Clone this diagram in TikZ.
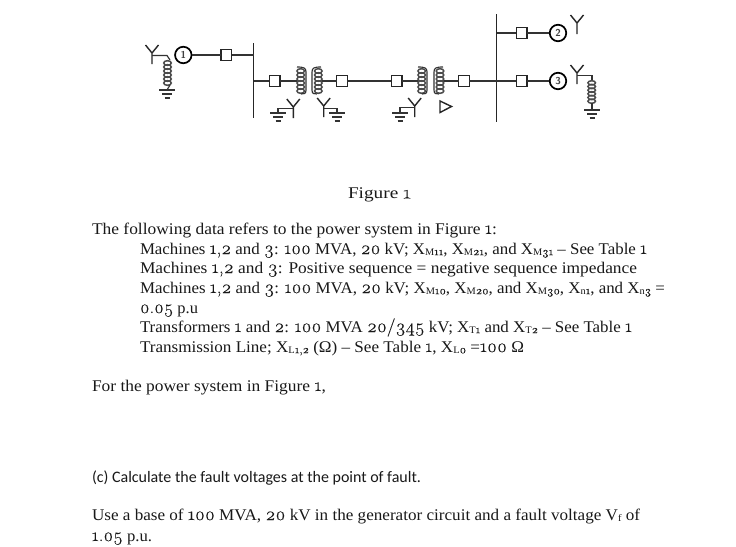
\documentclass[tikz,border=0pt]{standalone}
\usepackage{graphicx}
\usepackage{fontspec}
\setmainfont{Liberation Serif}
\newfontfamily\calib{Carlito}
\newfontfamily\osfont[Numbers=OldStyle,Scale=1.12,FakeBold=0.1]{Latin Modern Roman}
\newcommand{\os}[1]{{\osfont #1}}
\newcommand{\lowt}[1]{\raisebox{-1.2pt}{\fontsize{10}{10}\selectfont #1}}
\newcommand{\textline}[5]{\node[txt] (#1) at (#2,#3) {\resizebox{#4pt}{\height}{#5}};}
\newcommand{\gnd}[2]{%
  \draw[ln] (#1-8,#2) -- (#1+8,#2);
  \draw[ln] (#1-5,#2+4) -- (#1+5,#2+4);
  \draw[ln] (#1-2.5,#2+8) -- (#1+2.5,#2+8);}
\newcommand{\ysym}[2]{% centre of the fork
  \draw[lnt] (#1-6.5,#2-8) -- (#1,#2) -- (#1+6.5,#2-8) (#1,#2) -- (#1,#2+11);}
\newcommand{\coilv}[3]{% x, ytop, ybottom
  \foreach \i in {0,...,5}{
    \draw[coilst] ({#1},{#2+(#3-#2)*(\i+0.5)/6}) ellipse [x radius=3.8,y radius={(#3-#2)/12+0.3}];}}
\tikzset{
  ln/.style={draw=black!80,line width=1.15pt},
  lnt/.style={draw=black!85,line width=1.4pt},
  coilst/.style={draw=black!70,line width=1.5pt},
  brk/.style={draw,fill=white,line width=1.2pt,draw=black!85,minimum size=10.5pt,inner sep=0pt,outer sep=0pt},
  mach/.style={circle,draw=black,line width=1.7pt,fill=white,minimum size=16.5pt,inner sep=0pt,text=black!75,font=\sffamily\bfseries\fontsize{10}{10}\selectfont},
  txt/.style={anchor=base west,inner sep=0pt,outer sep=0pt,text=black!90,font=\fontsize{16.3}{18}\selectfont},
  txc/.style={txt,font=\calib\fontsize{16}{18}\selectfont}
}
\begin{document}
\begin{tikzpicture}[x=1pt,y=-1pt]
\useasboundingbox[fill=white] (0,0) rectangle (736,546);
% buses
\coordinate (b1t) at (253.7,43); \coordinate (b1b) at (253.7,118);
\coordinate (b2t) at (496.7,14); \coordinate (b2b) at (496.7,122);
\draw[lnt] (b1t) -- (b1b);
\draw[lnt] (b2t) -- (b2b);
\coordinate (b1a) at (253.7,55); \coordinate (b1c) at (253.7,81);
\coordinate (b2a) at (496.7,33); \coordinate (b2c) at (496.7,81);
% machines and breakers
\node[mach] (m1) at (183.3,55) {1};
\node[mach] (m2) at (558,33) {2};
\node[mach] (m3) at (558,81) {3};
\node[brk] (s1) at (226.3,55) {};
\node[brk] (s2) at (274.7,81) {};
\node[brk] (s3) at (342,81) {};
\node[brk] (s4) at (396.7,81) {};
\node[brk] (s5) at (464,81) {};
\node[brk] (s6) at (521.7,33) {};
\node[brk] (s7) at (521.7,81) {};
\coordinate (t1l) at (298,81); \coordinate (t1r) at (320,81);
\coordinate (t2l) at (419,81); \coordinate (t2r) at (442,81);
\draw[ln] (m1) -- (s1); \draw[ln] (s1) -- (b1a);
\draw[ln] (b1c) -- (s2); \draw[ln] (s2) -- (t1l);
\draw[ln] (t1r) -- (s3); \draw[ln] (s3) -- (s4);
\draw[ln] (s4) -- (t2l); \draw[ln] (t2r) -- (s5);
\draw[ln] (s5) -- (b2c); \draw[ln] (b2c) -- (s7); \draw[ln] (s7) -- (m3);
\draw[ln] (b2a) -- (s6); \draw[ln] (s6) -- (m2);
% transformer windings
\coilv{300.7}{69}{93} \coilv{318.3}{69}{93}
\coilv{421.7}{69}{93} \coilv{440}{69}{93}
\draw[ln] (297,67) .. controls (304,67) and (306,68) .. (306,72) -- (306,90) .. controls (306,94) and (304,94) .. (301,94);
\draw[ln] (321,67) .. controls (314,67) and (312,68) .. (312,72) -- (312,90) .. controls (312,94) and (314,94) .. (317,94);
\draw[ln] (418,67) .. controls (425,67) and (427,68) .. (427,72) -- (427,90) .. controls (427,94) and (425,94) .. (422,94);
\draw[ln] (443,67) .. controls (436,67) and (434,68) .. (434,72) -- (434,90) .. controls (434,94) and (436,94) .. (439,94);
% generator 1 neutral
\ysym{152}{53}
\draw[ln] (152,55.5) -- (167,55.5) -- (170,60);
\coilv{167.5}{61}{85}
\draw[ln] (170,85) -- (167,90);
\gnd{167}{90}
% generator 3 neutral
\ysym{577}{73}
\draw[ln] (577,75.5) -- (592,75.5) -- (592,81);
\coilv{591.7}{81}{103}
\draw[ln] (592,103) -- (592,110);
\gnd{592}{110}
% generator 2
\ysym{577}{23}
% T1 ground Y's
\ysym{293.3}{107}
\draw[ln] (293.3,108.5) -- (278,108.5) -- (278,113);
\gnd{278}{113}
\ysym{323.7}{106}
\draw[ln] (323.7,108.5) -- (337,108.5) -- (337,113);
\gnd{337}{113}
% T2 ground Y and delta
\ysym{414.7}{106}
\draw[ln] (414.7,107.5) -- (400,107.5) -- (400,113);
\gnd{400}{113}
\draw[lnt] (440,101) -- (451.5,106.5) -- (440,112.5) -- cycle;
% text
\textline{cap}{348}{198.5}{63}{Figure \os{1}}
\textline{l1}{92}{234}{405}{The following data refers to the power system in Figure \os{1}:}
\textline{l2}{140}{254}{507}{Machines \os{1,2} and \os{3}: \os{100} MVA, \os{20} kV; X\lowt{M\os{11}}, X\lowt{M\os{21}}, and X\lowt{M\os{31}} -- See Table \os{1}}
\textline{l3}{140}{273}{497}{Machines \os{1,2} and \os{3}: Positive sequence = negative sequence impedance}
\textline{l4}{140}{293}{525}{Machines \os{1,2} and \os{3}: \os{100} MVA, \os{20} kV; X\lowt{M\os{10}}, X\lowt{M\os{20}}, and X\lowt{M\os{30}}, X\lowt{n\os{1}}, and X\lowt{n\os{3}} =}
\textline{l5}{140}{313}{58}{\os{0.05} p.u}
\textline{l6}{140}{332}{492}{Transformers \os{1} and \os{2}: \os{100} MVA \os{20/345} kV; X\lowt{T\os{1}} and X\lowt{T\os{2}} -- See Table \os{1}}
\textline{l7}{140}{352}{384}{Transmission Line; X\lowt{L\os{1,2}} (Ω) -- See Table \os{1}, X\lowt{L\os{0}} =\os{100} Ω}
\textline{l8}{92}{391}{234}{For the power system in Figure \os{1},}
\node[txc] (l9) at (92,482) {\resizebox{329pt}{\height}{(c) Calculate the fault voltages at the point of fault.}};
\textline{l10}{92}{520}{548}{Use a base of \os{100} MVA, \os{20} kV in the generator circuit and a fault voltage V\lowt{f} of}
\textline{l11}{92}{541}{60}{\os{1.05} p.u.}
\end{tikzpicture}
\end{document}
